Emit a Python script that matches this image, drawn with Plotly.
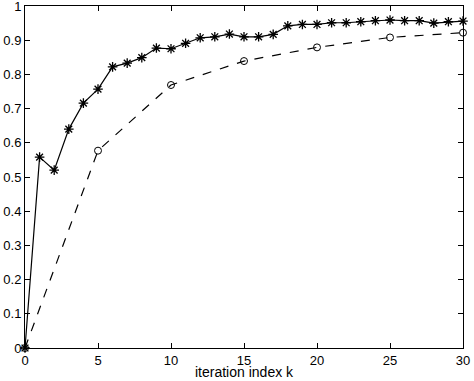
import plotly.graph_objects as go

k_star = list(range(0, 31))
v_star = [0.0, 0.558, 0.520, 0.640, 0.716, 0.757, 0.822, 0.833, 0.849, 0.877,
          0.875, 0.891, 0.907, 0.910, 0.918, 0.910, 0.910, 0.917, 0.942, 0.946,
          0.946, 0.951, 0.951, 0.954, 0.957, 0.959, 0.957, 0.957, 0.950, 0.954, 0.956]
k_circ = [0, 5, 10, 15, 20, 25, 30]
v_circ = [0.0, 0.577, 0.769, 0.839, 0.879, 0.908, 0.922]

x_ticks = [0, 5, 10, 15, 20, 25, 30]
y_ticks = [0, 0.1, 0.2, 0.3, 0.4, 0.5, 0.6, 0.7, 0.8, 0.9, 1]
y_labels = ["0", "0.1", "0.2", "0.3", "0.4", "0.5", "0.6", "0.7", "0.8", "0.9", "1"]
x_title = "iteration index k"

FONT = dict(family="Liberation Sans, Arial, sans-serif", size=13, color="black")
TITLE_FONT = dict(family="Liberation Sans, Arial, sans-serif", size=14, color="black")

fig = go.Figure()
fig.add_trace(go.Scatter(x=k_star, y=v_star, mode="lines+markers",
                         line=dict(color="black", width=1.2),
                         marker=dict(symbol="asterisk-open", size=8, color="black",
                                     line=dict(color="black", width=1.3)),
                         cliponaxis=False))
fig.add_trace(go.Scatter(x=k_circ, y=v_circ, mode="lines+markers",
                         line=dict(color="black", width=1.2, dash="dash"),
                         marker=dict(symbol="circle-open", size=7, color="black",
                                     line=dict(color="black", width=1)),
                         cliponaxis=False))

axis_common = dict(showline=True, linecolor="black", linewidth=1, mirror="ticks",
                   ticks="inside", ticklen=5, tickcolor="black", showgrid=False,
                   zeroline=False, automargin=False, tickfont=FONT,
                   ticklabeloverflow="allow")
fig.update_xaxes(range=[0, 30], tickvals=x_ticks, ticklabelstandoff=0, **axis_common)
fig.update_yaxes(range=[0, 1], tickvals=y_ticks, ticktext=y_labels, ticklabelstandoff=0,
                 **axis_common)
fig.add_annotation(text=x_title, xref="paper", yref="paper", x=0.5, y=0,
                   xanchor="center", yanchor="top", yshift=-14, showarrow=False,
                   font=TITLE_FONT)
fig.update_layout(width=474, height=381, margin=dict(l=25, r=11, t=6, b=33),
                  plot_bgcolor="white", paper_bgcolor="white", showlegend=False)
fig.write_html("out.html", config={"displayModeBar": False},
               post_script="document.body.style.margin='0';document.body.style.overflow='hidden';")
